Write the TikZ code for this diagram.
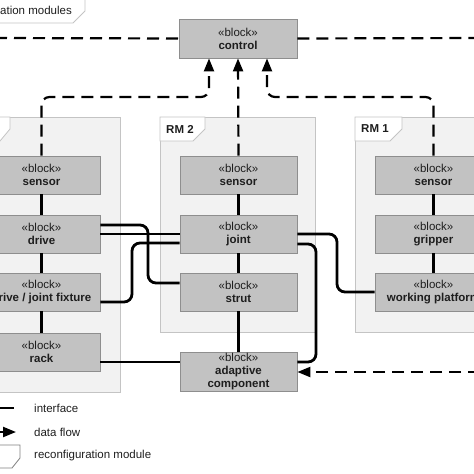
\documentclass[tikz,border=0pt]{standalone}
\usepackage{fontspec}
\setmainfont{Liberation Sans}
\usetikzlibrary{arrows.meta}
\definecolor{blkfill}{HTML}{C2C2C2}
\definecolor{blkdraw}{HTML}{8E8E8E}
\definecolor{frmfill}{HTML}{F2F2F2}
\definecolor{frmdraw}{HTML}{C4C4C4}
\definecolor{txt}{HTML}{1E1E1E}
\begin{document}
\begin{tikzpicture}[x=1pt,y=-1pt,
  blk/.style={draw=blkdraw, fill=blkfill, line width=0.8pt, minimum width=117pt, minimum height=38pt, inner sep=0pt, align=center, font=\fontsize{11.5}{13}\selectfont, text=txt},
  frm/.style={draw=frmdraw, fill=frmfill, line width=0.8pt},
  tabsh/.style={draw=frmdraw, fill=white, line width=0.8pt},
  iface/.style={line width=2.8pt, rounded corners=8pt},
  link/.style={line width=2.2pt},
  dflow/.style={line width=2.2pt, dash pattern=on 12pt off 7pt, rounded corners=8pt},
  tip/.style={-{Triangle[length=13pt,width=10pt]}},
  lbl/.style={font=\fontsize{11.5}{13}\selectfont, text=txt, inner sep=0pt},
  rmlbl/.style={font=\bfseries\fontsize{11.5}{13}\selectfont, text=txt, inner sep=0pt, anchor=west}]

\useasboundingbox (0,0) rectangle (474,474);
\clip (0,0) rectangle (474,474);

% outer frame tab
\draw[tabsh] (-5,-5) -- (85,-5) -- (85,11) -- (73,23) -- (-5,23) -- cycle;
\node[lbl, anchor=east] (outerlbl) at (72,12) {reconfiguration modules};

% frames
\draw[frm] (-5,117) rectangle (120,392);
\draw[tabsh] (-5,117) -- (10,117) -- (10,129) -- (0,141) -- (-5,141) -- cycle;
\draw[frm] (160,117) rectangle (315,332);
\draw[tabsh] (160,117) -- (205,117) -- (205,129) -- (193,141) -- (160,141) -- cycle;
\node[rmlbl] (rm2) at (166,129) {RM 2};
\draw[frm] (355,117) rectangle (480,332);
\draw[tabsh] (355,117) -- (402,117) -- (402,129) -- (390,141) -- (355,141) -- cycle;
\node[rmlbl] (rm1) at (361,129) {RM 1};

% blocks
\node[blk, minimum width=118pt, minimum height=39pt] (control) at (238,38.5) {«block»\\\textbf{control}};

\node[blk] (lsens) at (41.5,175) {«block»\\\textbf{sensor}};
\node[blk] (drive) at (41.5,234) {«block»\\\textbf{drive}};
\node[blk] (djf) at (41.5,292) {«block»\\\textbf{drive / joint fixture}};
\node[blk] (rack) at (41.5,352) {«block»\\\textbf{rack}};

\node[blk] (msens) at (238.5,175) {«block»\\\textbf{sensor}};
\node[blk] (joint) at (238.5,234) {«block»\\\textbf{joint}};
\node[blk] (strut) at (238.5,292) {«block»\\\textbf{strut}};
\node[blk, minimum height=39pt] (adapt) at (238.5,371.5) {«block»\\\textbf{adaptive}\\\textbf{component}};

\node[blk] (rsens) at (433.5,175) {«block»\\\textbf{sensor}};
\node[blk] (grip) at (433.5,234) {«block»\\\textbf{gripper}};
\node[blk] (wp) at (433.5,292) {«block»\\\textbf{working platform}};

% in-column interfaces
\draw[link] (lsens) -- (drive);
\draw[link] (drive) -- (djf);
\draw[link] (djf) -- (rack);
\draw[link] (msens) -- (joint);
\draw[link] (joint) -- (strut);
\draw[link] (strut) -- (adapt);
\draw[link] (rsens) -- (grip);
\draw[link] (grip) -- (wp);

% cross interfaces
\draw[iface] ([yshift=9pt]drive.east) -| (148,283) -- ([yshift=9pt]strut.west);
\draw[iface] (drive.east) -- (joint.west);
\draw[iface] ([yshift=-10pt]djf.east) -| (132,243) -- ([yshift=-9pt]joint.west);
\draw[iface] (rack.east |- 0,362) -- (adapt.west |- 0,362);
\draw[iface] (joint.east) -| (337,292) -- (wp.west);
\draw[iface] ([yshift=-10pt]joint.east) -| (316,362) -- (adapt.east |- 0,362);

% data flow
\coordinate (dl) at (-5,38);
\coordinate (dr) at (480,38);
\coordinate (da) at (480,372);
\draw[dflow] (dl) -- (control.west);
\draw[dflow] (control.east) -- (dr);
\draw[dflow, tip] (lsens.north) |- (209,97) -- ([xshift=-29pt]control.south);
\draw[dflow, tip] (msens.north) -- (control.south);
\draw[dflow, tip] (rsens.north) |- (267,97) -- ([xshift=29pt]control.south);
\draw[dflow, tip] (da) -- (adapt.east |- 0,372);

% legend
\coordinate (l1a) at (-5,408); \coordinate (l1b) at (14,408);
\coordinate (l2a) at (-5,432); \coordinate (l2b) at (16,432);
\draw[iface] (l1a) -- (l1b);
\draw[link, tip] (l2a) -- (l2b);
\draw[tabsh, draw=gray] (-5,445) -- (20,445) -- (20,458) -- (12,468) -- (-5,468) -- cycle;
\node[lbl, anchor=west] (legi) at (34,408) {interface};
\node[lbl, anchor=west] (legd) at (34,432) {data flow};
\node[lbl, anchor=west] (legr) at (34,456) {reconfiguration module};
\end{tikzpicture}
\end{document}
